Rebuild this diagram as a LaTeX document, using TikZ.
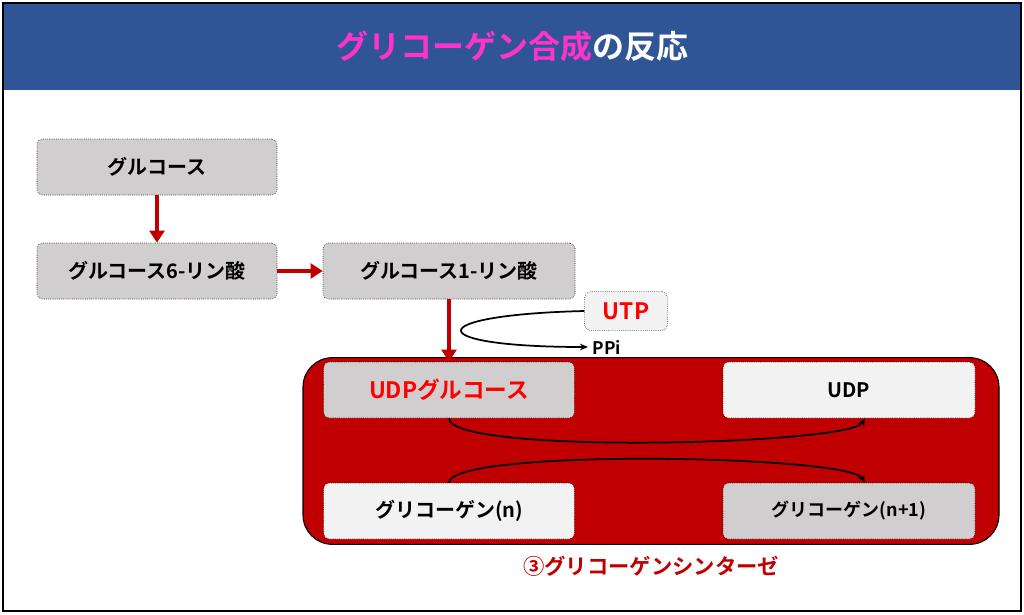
\documentclass[tikz,border=0pt]{standalone}
\usepackage{fontspec}
\setmainfont{Noto Sans CJK JP}[BoldFont={Noto Sans CJK JP Bold}]
\usetikzlibrary{arrows.meta,positioning}
\definecolor{titleblue}{HTML}{2F5597}
\definecolor{boxgray}{HTML}{D0CECE}
\definecolor{boxlight}{HTML}{F2F2F2}
\definecolor{enzred}{HTML}{C00000}
\definecolor{pink}{HTML}{FF33CC}
\tikzset{
  stepgray/.style={draw, densely dotted, rounded corners=4pt, fill=boxgray, minimum width=180pt, minimum height=42pt, font=\bfseries\fontsize{15}{17}\selectfont},
  steplight/.style={stepgray, fill=boxlight},
  redarrow/.style={-{Triangle[length=9pt,width=11pt,fill=enzred]}, draw=enzred, line width=2.5pt},
  blackarrow/.style={-{Stealth[length=6pt,width=5pt]}, line width=1.3pt}
}
\begin{document}
\begin{tikzpicture}[x=0.75pt,y=-0.75pt]
  \useasboundingbox (0,0) rectangle (1024,614);
  \fill[white] (0,0) rectangle (1024,614);
  \fill[titleblue] (3,3) rectangle (1021,90);
  \draw[line width=0.8pt] (3,3) rectangle (1021,611);
  \node (title) at (512,46) {\bfseries\fontsize{24}{28}\selectfont\textcolor{pink}{グリコーゲン合成}\textcolor{white}{の反応}};
  % enzyme box
  \node (enz) [draw, line width=0.8pt, fill=enzred, rounded corners=22pt, minimum width=522pt, minimum height=140pt] at (651,451) {};
  \node (glc) [stepgray] at (157,167) {グルコース};
  \node (g6p) [stepgray] at (157,271) {グルコース6-リン酸};
  \node (g1p) [stepgray, minimum width=189pt] at (449,271) {グルコース1-リン酸};
  \node (utp) [steplight, minimum width=62pt, minimum height=29pt, text=red, font=\bfseries\fontsize{17}{19}\selectfont] at (626,311) {UTP};
  \node (ppi) [font=\bfseries\fontsize{13}{15}\selectfont, anchor=west] at (588,347) {PPi};
  \node (udpg) [stepgray, minimum width=188pt, text=red, font=\bfseries\fontsize{17}{19}\selectfont] at (449,390) {UDPグルコース};
  \node (udp) [steplight, minimum width=189pt] at (849,390) {UDP};
  \node (gn) [steplight, minimum width=188pt] at (449,511) {グリコーゲン(n)};
  \node (gn1) [stepgray, minimum width=189pt, font=\bfseries\fontsize{13.5}{16}\selectfont] at (849,511) {グリコーゲン(n+1)};
  \node (synth) [text=enzred, font=\bfseries\fontsize{16}{18}\selectfont] at (651,566) {③グリコーゲンシンターゼ};
  \draw[redarrow] (glc) -- (g6p);
  \draw[redarrow] (g6p) -- (g1p);
  \draw[redarrow] (g1p) -- (udpg);
  \draw[blackarrow] (utp.west) .. controls (420,315) and (420,347) .. (ppi.west);
  \draw[blackarrow] (udpg.south) .. controls (450,455) and (850,445) .. ([xshift=12pt]udp.south);
  \draw[blackarrow] (gn.north) .. controls (450,448) and (850,455) .. ([xshift=12pt]gn1.north);
\end{tikzpicture}
\end{document}
